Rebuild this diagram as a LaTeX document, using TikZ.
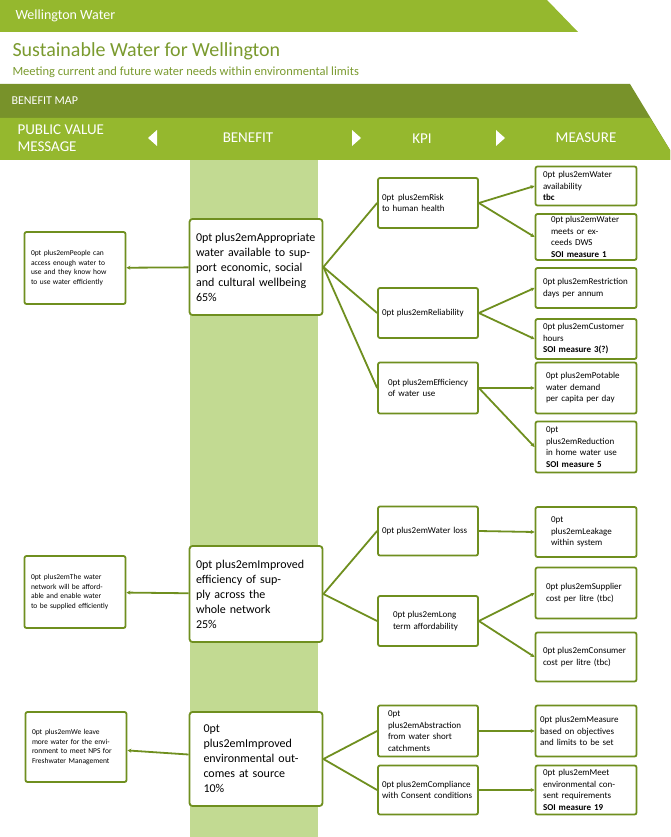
\documentclass[tikz,border=0pt]{standalone}
\usepackage{fontspec}
\setmainfont{Carlito}
\usetikzlibrary{arrows.meta}
\definecolor{wwgreen}{HTML}{95B82E}
\definecolor{wwdark}{HTML}{78922A}
\definecolor{wwpale}{HTML}{C2DA92}
\definecolor{wwline}{HTML}{6F8F1F}
\definecolor{wwtitle}{HTML}{7A9A2E}
\tikzset{
  pv/.style={draw=wwline, line width=1.8pt, rounded corners=2pt, fill=white, align=center, inner sep=1pt, text width=88pt, minimum width=101pt, font=\fontsize{7.5}{9.5}\selectfont\hyphenpenalty=10000},
  benefit/.style={draw=wwline, line width=1.8pt, rounded corners=3pt, fill=white, align=center, inner sep=1pt, text width=120pt, minimum width=133pt, font=\fontsize{12}{15}\selectfont\hyphenpenalty=10000},
  kpi/.style={draw=wwline, line width=1.8pt, rounded corners=2pt, fill=white, align=center, inner sep=1pt, text width=92pt, minimum width=100pt, font=\fontsize{9}{11.5}\selectfont\hyphenpenalty=10000},
  measure/.style={kpi, text width=86pt, minimum width=101pt},
  link/.style={draw=wwline, line width=1.8pt},
  arrow/.style={link, -{Stealth[length=4pt,width=4pt]}},
  head/.style={text=white, font=\fontsize{15}{17}\selectfont},
  tri/.style={fill=white}
}
\begin{document}
\begin{tikzpicture}[x=1pt, y=-1pt]
    \useasboundingbox (0,0) rectangle (670,837);
    % Banners
    \fill[wwgreen] (0,0) -- (547,0) -- (578,32) -- (0,32) -- cycle;
    \node[anchor=west, text=white, font=\fontsize{14}{16}\selectfont] (org) at (12,16) {Wellington Water};
    \node[anchor=west, text=wwtitle, font=\fontsize{20}{22}\selectfont] (title) at (9,51) {Sustainable Water for Wellington};
    \node[anchor=west, text=wwtitle, font=\fontsize{12.5}{14}\selectfont] (subtitle) at (9,72) {Meeting current and future water needs within environmental limits};
    \fill[wwdark] (0,84) -- (630,84) -- (670,150) -- (670,160) -- (0,160) -- cycle;
    \fill[wwgreen] (0,118) -- (650,118) -- (670,150) -- (670,160) -- (0,160) -- cycle;
    \node[anchor=west, text=white, font=\fontsize{12}{14}\selectfont] (map) at (8,101) {BENEFIT MAP};
    \node[head, anchor=west, align=left] (hpv) at (14,138) {PUBLIC VALUE\\MESSAGE};
    \node[head] (hben) at (248,138) {BENEFIT};
    \node[head] (hkpi) at (422,139) {KPI};
    \node[head] (hmes) at (586,138) {MEASURE};
    \fill[tri] (148,138) -- (157,130) -- (157,146) -- cycle;
    \fill[tri] (361,138) -- (352,130) -- (352,146) -- cycle;
    \fill[tri] (505,138) -- (496,130) -- (496,146) -- cycle;
    \fill[wwpale] (190,160) rectangle (318,837);

    % Public value messages
    \node[pv, minimum height=72pt] (pv1) at (75,268) {People can access enough water to use and they know how to use water efficiently};
    \node[pv, minimum height=72pt] (pv2) at (75,592) {The water network will be affordable and enable water to be supplied efficiently};
    \node[pv, minimum height=70pt] (pv3) at (76,747) {We leave more water for the environment to meet NPS for Freshwater Management};

    % Benefits
    \node[benefit, minimum height=96pt] (ben1) at (256,267) {Appropriate water available to support economic, social and cultural wellbeing\\65\%};
    \node[benefit, minimum height=96pt] (ben2) at (256,594) {Improved efficiency of supply across the whole network\\25\%};
    \node[benefit, minimum height=94pt, text width=105pt] (ben3) at (256,759) {Improved environmental outcomes at source\\10\%};

    % KPIs
    \node[kpi, minimum height=50pt] (health) at (428,203) {Risk to human health};
    \node[kpi, minimum height=50pt] (reliab) at (428,313) {Reliability\\[6pt]};
    \node[kpi, minimum height=51pt, text width=80pt] (effic) at (428,388) {Efficiency of water use};
    \node[kpi, minimum height=49pt] (loss) at (428,531) {Water loss};
    \node[kpi, minimum height=50pt, text width=70pt] (afford) at (428,621) {Long term affordability\\[4pt]};
    \node[kpi, minimum height=51pt, text width=80pt] (abstr) at (428,731) {Abstraction from water short catchments};
    \node[kpi, minimum height=49pt] (consent) at (428,790) {Compliance with Consent conditions};

    % Measures
    \node[measure, minimum height=39pt] (avail) at (586,186) {Water availability\\\textbf{tbc}};
    \node[measure, minimum height=46pt, text width=70pt] (dws) at (586,237) {Water meets or exceeds DWS\\\textbf{SOI measure 1}};
    \node[measure, minimum height=40pt] (restr) at (586,288) {Restriction days per annum};
    \node[measure, minimum height=40pt] (cust) at (586,339) {Customer hours\\\textbf{SOI measure 3(?)}};
    \node[measure, minimum height=51pt, text width=80pt] (potable) at (586,388) {Potable water demand per capita per day};
    \node[measure, minimum height=51pt, text width=80pt] (home) at (586,447) {Reduction in home water use\\\textbf{SOI measure 5}};
    \node[measure, minimum height=50pt, text width=70pt] (leak) at (586,532) {Leakage within system\\[6pt]};
    \node[measure, minimum height=51pt, text width=80pt] (supp) at (586,593) {Supplier cost per litre (tbc)};
    \node[measure, minimum height=49pt] (cons) at (586,657) {Consumer cost per litre (tbc)};
    \node[measure, minimum height=51pt, text width=92pt] (objs) at (586,731) {Measure based on objectives and limits to be set};
    \node[measure, minimum height=49pt] (envreq) at (586,790) {Meet environmental consent requirements\\\textbf{SOI measure 19}};

    % Connectors
    \draw[arrow] (ben1) -- (pv1);
    \draw[arrow] (ben2) -- (pv2);
    \draw[arrow] (ben3) -- (pv3);
    \draw[link] (ben1.east) -- (health.west);
    \draw[link] (ben1.east) -- (reliab.west);
    \draw[link] (ben1.east) -- (effic.west);
    \draw[link] (ben2.east) -- (loss.west);
    \draw[link] (ben2.east) -- (afford.west);
    \draw[link] (ben3.east) -- (abstr.west);
    \draw[link] (ben3.east) -- (consent.west);
    \draw[arrow] (health.east) -- (avail.west);
    \draw[arrow] (health.east) -- (dws.west);
    \draw[arrow] (reliab.east) -- (restr.west);
    \draw[arrow] (reliab.east) -- (cust.west);
    \draw[arrow] (effic.east) -- (potable.west);
    \draw[arrow] (effic.east) -- (home.west);
    \draw[arrow] (loss.east) -- (leak.west);
    \draw[arrow] (afford.east) -- (supp.west);
    \draw[arrow] (afford.east) -- (cons.west);
    \draw[arrow] (abstr.east) -- (objs.west);
    \draw[arrow] (consent.east) -- (envreq.west);
\end{tikzpicture}
\end{document}
